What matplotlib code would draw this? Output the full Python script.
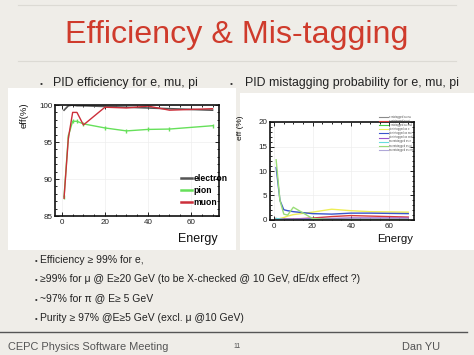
import matplotlib
matplotlib.use("Agg")
import matplotlib.pyplot as plt
from matplotlib.patches import Rectangle
from matplotlib.lines import Line2D
from matplotlib.ticker import MultipleLocator

W, H = 474, 355
FONT = "Liberation Sans"

# ---------------- data ----------------
energy = [1, 3, 5, 7, 10, 20, 30, 40, 50, 70]
eff_electron = [99.3, 99.9, 100.0, 99.9, 99.9, 99.8, 99.7, 99.6, 99.5, 99.3]
eff_pion = [87.6, 95.8, 97.8, 97.8, 97.45, 96.9, 96.5, 96.7, 96.75, 97.2]
eff_muon = [87.4, 95.5, 99.0, 99.0, 97.3, 99.7, 99.6, 99.85, 99.3, 99.5]

mis_labels = ["e mistagged as mu", "e mistagged as pi", "e mistagged as end",
              "pi mistagged as e", "pi mistagged as mu", "pi mistagged as end",
              "mu mistagged as e", "mu mistagged as pi", "mu mistagged as end"]
mis_e_mu = [0.2, 0.1, 0.05, 0.05, 0.05, 0.05, 0.05, 0.05, 0.05, 0.05]
mis_e_pi = [0.3, 0.2, 0.2, 0.2, 0.2, 0.4, 0.7, 0.9, 0.8, 0.6]
mis_e_end = [0.05, 0.05, 0.05, 0.05, 0.05, 0.05, 0.05, 0.05, 0.05, 0.05]
mis_pi_e = [0.1, 0.3, 0.5, 0.8, 1.1, 1.6, 2.2, 1.9, 1.7, 1.6]
mis_pi_mu = [10.7, 4.0, 2.1, 1.9, 1.7, 1.3, 1.2, 1.4, 1.4, 1.3]
mis_pi_end = [0.2, 0.2, 0.2, 0.2, 0.2, 0.3, 0.3, 0.4, 0.4, 0.4]
mis_mu_e = [0.3, 0.2, 0.1, 0.1, 0.1, 0.1, 0.1, 0.1, 0.1, 0.1]
mis_mu_pi = [12.3, 4.0, 1.2, 1.0, 2.6, 0.3, 0.1, 0.1, 0.1, 0.1]
mis_mu_end = [0.1, 0.1, 0.1, 0.1, 0.1, 0.1, 0.1, 0.1, 0.1, 0.1]
mis_series = [mis_e_mu, mis_e_pi, mis_e_end, mis_pi_e, mis_pi_mu, mis_pi_end,
              mis_mu_e, mis_mu_pi, mis_mu_end]
mis_colors = ["#8a8a8a", "#d83a3a", "#44cc44", "#eeee55", "#3a55cc",
              "#9a55cc", "#66dddd", "#99dd77", "#b0a8d8"]

bullets_top = ["PID efficiency for e, mu, pi", "PID mistagging probability for e, mu, pi"]
notes = ["Efficiency \u2265 99% for e,",
         "\u226599% for \u03bc @ E\u226520 GeV (to be X-checked @ 10 GeV, dE/dx effect ?)",
         "~97% for \u03c0 @ E\u2265 5 GeV",
         "Purity \u2265 97% @E\u22655 GeV (excl. \u03bc @10 GeV)"]

# ---------------- figure ----------------
fig = plt.figure(figsize=(W / 100, H / 100), dpi=100)
fig.patch.set_facecolor("#efede8")

def fx(px):
    return px / W

def fy(py):
    return 1 - py / H

def rect(x0, y0, x1, y1, **kw):
    fig.patches.append(Rectangle((fx(x0), fy(y1)), fx(x1) - fx(x0), fy(y0) - fy(y1),
                                 transform=fig.transFigure, figure=fig, **kw))

def hline(y, x0, x1, **kw):
    fig.add_artist(Line2D([fx(x0), fx(x1)], [fy(y), fy(y)], transform=fig.transFigure, **kw))

# white plot panels
rect(8, 88, 236, 250, facecolor="white", edgecolor="none", zorder=-5)
rect(240, 93, 474, 250, facecolor="white", edgecolor="none", zorder=-5)

# separator lines
hline(5, 18, 456, color="#dcdad4", lw=0.8)
hline(61, 18, 456, color="#dcdad4", lw=0.8)
hline(332, 0, 467, color="#555555", lw=1.0)

# title
fig.text(fx(237), fy(43), "Efficiency & Mis-tagging", ha="center", va="baseline",
         fontsize=23.2, color="#cf3b2c", family=FONT)

# top bullets
fig.text(fx(40), fy(86), "\u2022", fontsize=6, color="#333333", family=FONT, va="baseline")
fig.text(fx(53), fy(86), bullets_top[0], fontsize=8.9, color="#222222", family=FONT, va="baseline")
fig.text(fx(230), fy(86), "\u2022", fontsize=6, color="#333333", family=FONT, va="baseline")
fig.text(fx(245), fy(86), bullets_top[1], fontsize=8.9, color="#222222", family=FONT, va="baseline")

# bottom notes
for i, t in enumerate(notes):
    y = 263 + i * 19.3
    fig.text(fx(35), fy(y), "\u2022", fontsize=5.5, color="#333333", family=FONT, va="baseline")
    fig.text(fx(40), fy(y), t, fontsize=7.5, color="#222222", family=FONT, va="baseline")

# footer
fig.text(fx(8), fy(350), "CEPC Physics Software Meeting", fontsize=7.9, color="#555555",
         family=FONT, va="baseline")
fig.text(fx(237), fy(348), "11", fontsize=5, color="#555555", family=FONT, va="baseline", ha="center")
fig.text(fx(440), fy(350), "Dan YU", fontsize=7.9, color="#555555", family=FONT,
         va="baseline", ha="right")

def style_axes(ax, xmaj, ymaj, ymin):
    ax.set_facecolor("white")
    ax.tick_params(which="both", direction="in", top=True, right=True,
                   labelsize=5.8, labelcolor="#222222", pad=2, width=0.6)
    ax.tick_params(which="major", length=3)
    ax.tick_params(which="minor", length=1.6)
    ax.xaxis.set_major_locator(MultipleLocator(xmaj))
    ax.xaxis.set_minor_locator(MultipleLocator(xmaj / 4))
    ax.yaxis.set_major_locator(MultipleLocator(ymaj))
    ax.yaxis.set_minor_locator(MultipleLocator(ymin))
    ax.grid(True, which="major", color="#eeeeee", lw=0.5)
    for s in ax.spines.values():
        s.set_linewidth(1.2)
        s.set_color("#111111")
    for lab in ax.get_xticklabels() + ax.get_yticklabels():
        lab.set_family(FONT)

# ---------------- left plot ----------------
ax1 = fig.add_axes([fx(55), fy(216), fx(219) - fx(55), fy(105) - fy(216)])
ax1.plot(energy, eff_electron, color="#555555", lw=1.2, label="electron")
ax1.plot(energy, eff_pion, color="#66e05a", lw=1.0, marker="|", ms=3, label="pion")
ax1.plot(energy, eff_muon, color="#cc2f3a", lw=1.0, label="muon")
ax1.set_xlim(-3.2, 73)
ax1.set_ylim(85, 100)
style_axes(ax1, 20, 5, 1)
leg = ax1.legend(loc="lower left", bbox_to_anchor=(0.77, 0.08), frameon=False,
                 prop={"family": FONT, "size": 6.2, "weight": "bold"},
                 handlelength=1.2, handletextpad=0.2, labelspacing=0.35, borderaxespad=0,
                 borderpad=0)
for h in leg.get_lines():
    h.set_linewidth(1.8)
    h.set_marker("")
fig.text(fx(218), fy(242), "Energy", ha="right", va="baseline", fontsize=9,
         family=FONT, color="#111111")
fig.text(fx(24), fy(115), "eff(%)", rotation=90, ha="center", va="center", fontsize=6.8,
         family=FONT, color="#111111")

# ---------------- right plot ----------------
ax2 = fig.add_axes([fx(270), fy(220), fx(414) - fx(270), fy(122) - fy(220)])
for lab, ser, col in zip(mis_labels, mis_series, mis_colors):
    ax2.plot(energy, ser, color=col, lw=1.0, label=lab)
ax2.set_xlim(-2.2, 73)
ax2.set_ylim(0, 20)
style_axes(ax2, 20, 5, 1)
leg2 = ax2.legend(loc="upper left", bbox_to_anchor=(0.76, 1.075), frameon=False,
                  prop={"family": FONT, "size": 1.9}, handlelength=3.4, handleheight=0.3,
                  handletextpad=0.4, labelspacing=0.05, borderaxespad=0, borderpad=0)
for h in leg2.get_lines():
    h.set_linewidth(0.8)
for t in leg2.get_texts():
    t.set_color("#555555")
fig.text(fx(413), fy(242), "Energy", ha="right", va="baseline", fontsize=8.2,
         family=FONT, color="#111111")
fig.text(fx(241), fy(128), "eff (%)", rotation=90, ha="center", va="center", fontsize=6,
         family=FONT, color="#111111", zorder=5)

fig.savefig("out.png", dpi=100, facecolor=fig.get_facecolor())
